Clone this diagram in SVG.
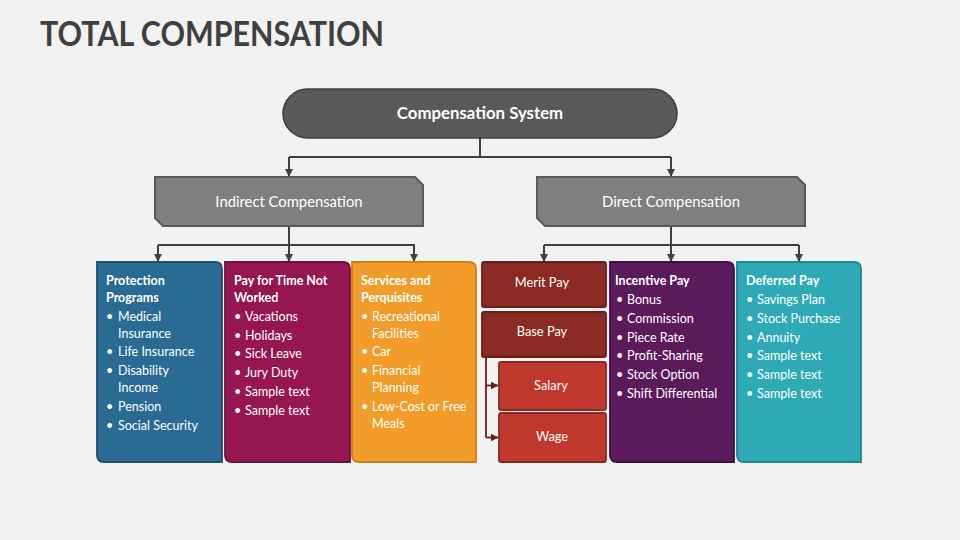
<svg xmlns="http://www.w3.org/2000/svg" width="960" height="540" viewBox="0 0 960 540">
<defs>
<style>
text{font-family:Lato,"Liberation Sans",sans-serif;fill:#ffffff}
.title{font-size:35px;font-weight:700;fill:#404040}
.h{font-size:12.5px;font-weight:700}
.it{font-size:12.5px}
.lbl{font-size:14.8px;text-anchor:middle}
.lblb{font-size:16.8px;font-weight:700;text-anchor:middle}
.sm{font-size:12.8px;text-anchor:middle}
.conn{fill:none;stroke:#404040;stroke-width:2}
.connr{fill:none;stroke:#6a1e19;stroke-width:1.8}
</style>
<marker id="ah" viewBox="0 0 8 8" refX="7" refY="4" markerWidth="8" markerHeight="8" markerUnits="userSpaceOnUse" orient="auto"><path d="M0,0 L8,4 L0,8 z" fill="#404040"/></marker>
<marker id="ahr" viewBox="0 0 8 8" refX="7.5" refY="4" markerWidth="8" markerHeight="8" markerUnits="userSpaceOnUse" orient="auto"><path d="M0,0 L8,4 L0,8 z" fill="#6a1e19"/></marker>
</defs>
<rect width="960" height="540" fill="#f2f2f2"/>
<text class="title" x="40" y="46" textLength="344" lengthAdjust="spacingAndGlyphs">TOTAL COMPENSATION</text>

<g id="connectors">
<path class="conn" d="M480,138 V157 M289,157 H671" />
<path class="conn" d="M289,157 V176" marker-end="url(#ah)"/>
<path class="conn" d="M671,157 V176" marker-end="url(#ah)"/>
<path class="conn" d="M289,226 V245 M158,245 H415"/>
<path class="conn" d="M158,245 V261" marker-end="url(#ah)"/>
<path class="conn" d="M289,245 V261" marker-end="url(#ah)"/>
<path class="conn" d="M414,245 V261" marker-end="url(#ah)"/>
<path class="conn" d="M671,226 V245 M544,245 H799"/>
<path class="conn" d="M544,245 V261" marker-end="url(#ah)"/>
<path class="conn" d="M671,245 V261" marker-end="url(#ah)"/>
<path class="conn" d="M799,245 V261" marker-end="url(#ah)"/>
<path class="connr" d="M486,357 V437.5"/>
<path class="connr" d="M486,385.5 H498" marker-end="url(#ahr)"/>
<path class="connr" d="M486,437.5 H498" marker-end="url(#ahr)"/>
</g>

<g id="compensation-system">
<rect x="283" y="89" width="394" height="49" rx="24.5" fill="#595959" stroke="#404040" stroke-width="1.5"/>
<text class="lblb" x="480" y="119">Compensation System</text>
</g>

<g id="indirect-compensation">
<path d="M155,177 H415 L423,185 V226 H163 L155,218 Z" fill="#7f7f7f" stroke="#595959" stroke-width="2"/>
<text class="lbl" x="289" y="206.5">Indirect Compensation</text>
</g>

<g id="direct-compensation">
<path d="M537,177 H797 L805,185 V226 H545 L537,218 Z" fill="#7f7f7f" stroke="#595959" stroke-width="2"/>
<text class="lbl" x="671" y="206.5">Direct Compensation</text>
</g>

<g id="protection-programs">
<path d="M97,262 H215 Q222,262 222,269 V462 H104 Q97,462 97,455 Z" fill="#2a6b93" stroke="#1f4e6e" stroke-width="1.8"/>
<text class="h" x="106" y="284.5">Protection</text>
<text class="h" x="106" y="301.5">Programs</text>
<text class="it" x="106" y="320.5">•</text><text class="it" x="118" y="320.5">Medical</text>
<text class="it" x="118" y="337.5">Insurance</text>
<text class="it" x="106" y="355.5">•</text><text class="it" x="118" y="355.5">Life Insurance</text>
<text class="it" x="106" y="374.5">•</text><text class="it" x="118" y="374.5">Disability</text>
<text class="it" x="118" y="391.5">Income</text>
<text class="it" x="106" y="410.5">•</text><text class="it" x="118" y="410.5">Pension</text>
<text class="it" x="106" y="429.5">•</text><text class="it" x="118" y="429.5">Social Security</text>
</g>

<g id="pay-for-time-not-worked">
<path d="M225,262 H343 Q350,262 350,269 V462 H232 Q225,462 225,455 Z" fill="#951650" stroke="#6e1038" stroke-width="1.8"/>
<text class="h" x="234" y="284.5">Pay for Time Not</text>
<text class="h" x="234" y="301.5">Worked</text>
<text class="it" x="234" y="320.5">•</text><text class="it" x="245" y="320.5">Vacations</text>
<text class="it" x="234" y="339.5">•</text><text class="it" x="245" y="339.5">Holidays</text>
<text class="it" x="234" y="357.5">•</text><text class="it" x="245" y="357.5">Sick Leave</text>
<text class="it" x="234" y="376.5">•</text><text class="it" x="245" y="376.5">Jury Duty</text>
<text class="it" x="234" y="395.5">•</text><text class="it" x="245" y="395.5">Sample text</text>
<text class="it" x="234" y="414.5">•</text><text class="it" x="245" y="414.5">Sample text</text>
</g>

<g id="services-and-perquisites">
<path d="M352,262 H469 Q476,262 476,269 V462 H359 Q352,462 352,455 Z" fill="#f29d2a" stroke="#d07d17" stroke-width="1.8"/>
<text class="h" x="361" y="284.5">Services and</text>
<text class="h" x="361" y="301.5">Perquisites</text>
<text class="it" x="361" y="320.5">•</text><text class="it" x="372" y="320.5">Recreational</text>
<text class="it" x="372" y="337.5">Facilities</text>
<text class="it" x="361" y="355.5">•</text><text class="it" x="372" y="355.5">Car</text>
<text class="it" x="361" y="374.5">•</text><text class="it" x="372" y="374.5">Financial</text>
<text class="it" x="372" y="391.5">Planning</text>
<text class="it" x="361" y="410.5">•</text><text class="it" x="372" y="410.5">Low-Cost or Free</text>
<text class="it" x="372" y="427.5">Meals</text>
</g>

<g id="merit-pay">
<rect x="482" y="262" width="124" height="45" rx="2" fill="#8b2a24" stroke="#6a1e19" stroke-width="1.8"/>
<text class="sm" x="542" y="287">Merit Pay</text>
</g>

<g id="base-pay">
<rect x="482" y="312" width="124" height="45" rx="2" fill="#8b2a24" stroke="#6a1e19" stroke-width="1.8"/>
<text class="sm" x="542" y="336">Base Pay</text>
</g>

<g id="salary">
<rect x="499" y="362" width="107" height="48" rx="2" fill="#c0382d" stroke="#8b2a24" stroke-width="1.8"/>
<text class="sm" x="551" y="390">Salary</text>
</g>

<g id="wage">
<rect x="499" y="413" width="107" height="49" rx="2" fill="#c0382d" stroke="#8b2a24" stroke-width="1.8"/>
<text class="sm" x="552" y="440.5">Wage</text>
</g>

<g id="incentive-pay">
<path d="M610,262 H727 Q734,262 734,269 V462 H617 Q610,462 610,455 Z" fill="#5b1a5b" stroke="#3f113f" stroke-width="1.8"/>
<text class="h" x="615" y="284.5">Incentive Pay</text>
<text class="it" x="616" y="303.5">•</text><text class="it" x="627" y="303.5">Bonus</text>
<text class="it" x="616" y="322.5">•</text><text class="it" x="627" y="322.5">Commission</text>
<text class="it" x="616" y="341.5">•</text><text class="it" x="627" y="341.5">Piece Rate</text>
<text class="it" x="616" y="359.5">•</text><text class="it" x="627" y="359.5">Profit-Sharing</text>
<text class="it" x="616" y="378.5">•</text><text class="it" x="627" y="378.5">Stock Option</text>
<text class="it" x="616" y="397.5">•</text><text class="it" x="627" y="397.5">Shift Differential</text>
</g>

<g id="deferred-pay">
<path d="M737,262 H854 Q861,262 861,269 V462 H744 Q737,462 737,455 Z" fill="#2eaab6" stroke="#1f8790" stroke-width="1.8"/>
<text class="h" x="746" y="284.5">Deferred Pay</text>
<text class="it" x="746" y="303.5">•</text><text class="it" x="757" y="303.5">Savings Plan</text>
<text class="it" x="746" y="322.5">•</text><text class="it" x="757" y="322.5">Stock Purchase</text>
<text class="it" x="746" y="341.5">•</text><text class="it" x="757" y="341.5">Annuity</text>
<text class="it" x="746" y="359.5">•</text><text class="it" x="757" y="359.5">Sample text</text>
<text class="it" x="746" y="378.5">•</text><text class="it" x="757" y="378.5">Sample text</text>
<text class="it" x="746" y="397.5">•</text><text class="it" x="757" y="397.5">Sample text</text>
</g>
</svg>
